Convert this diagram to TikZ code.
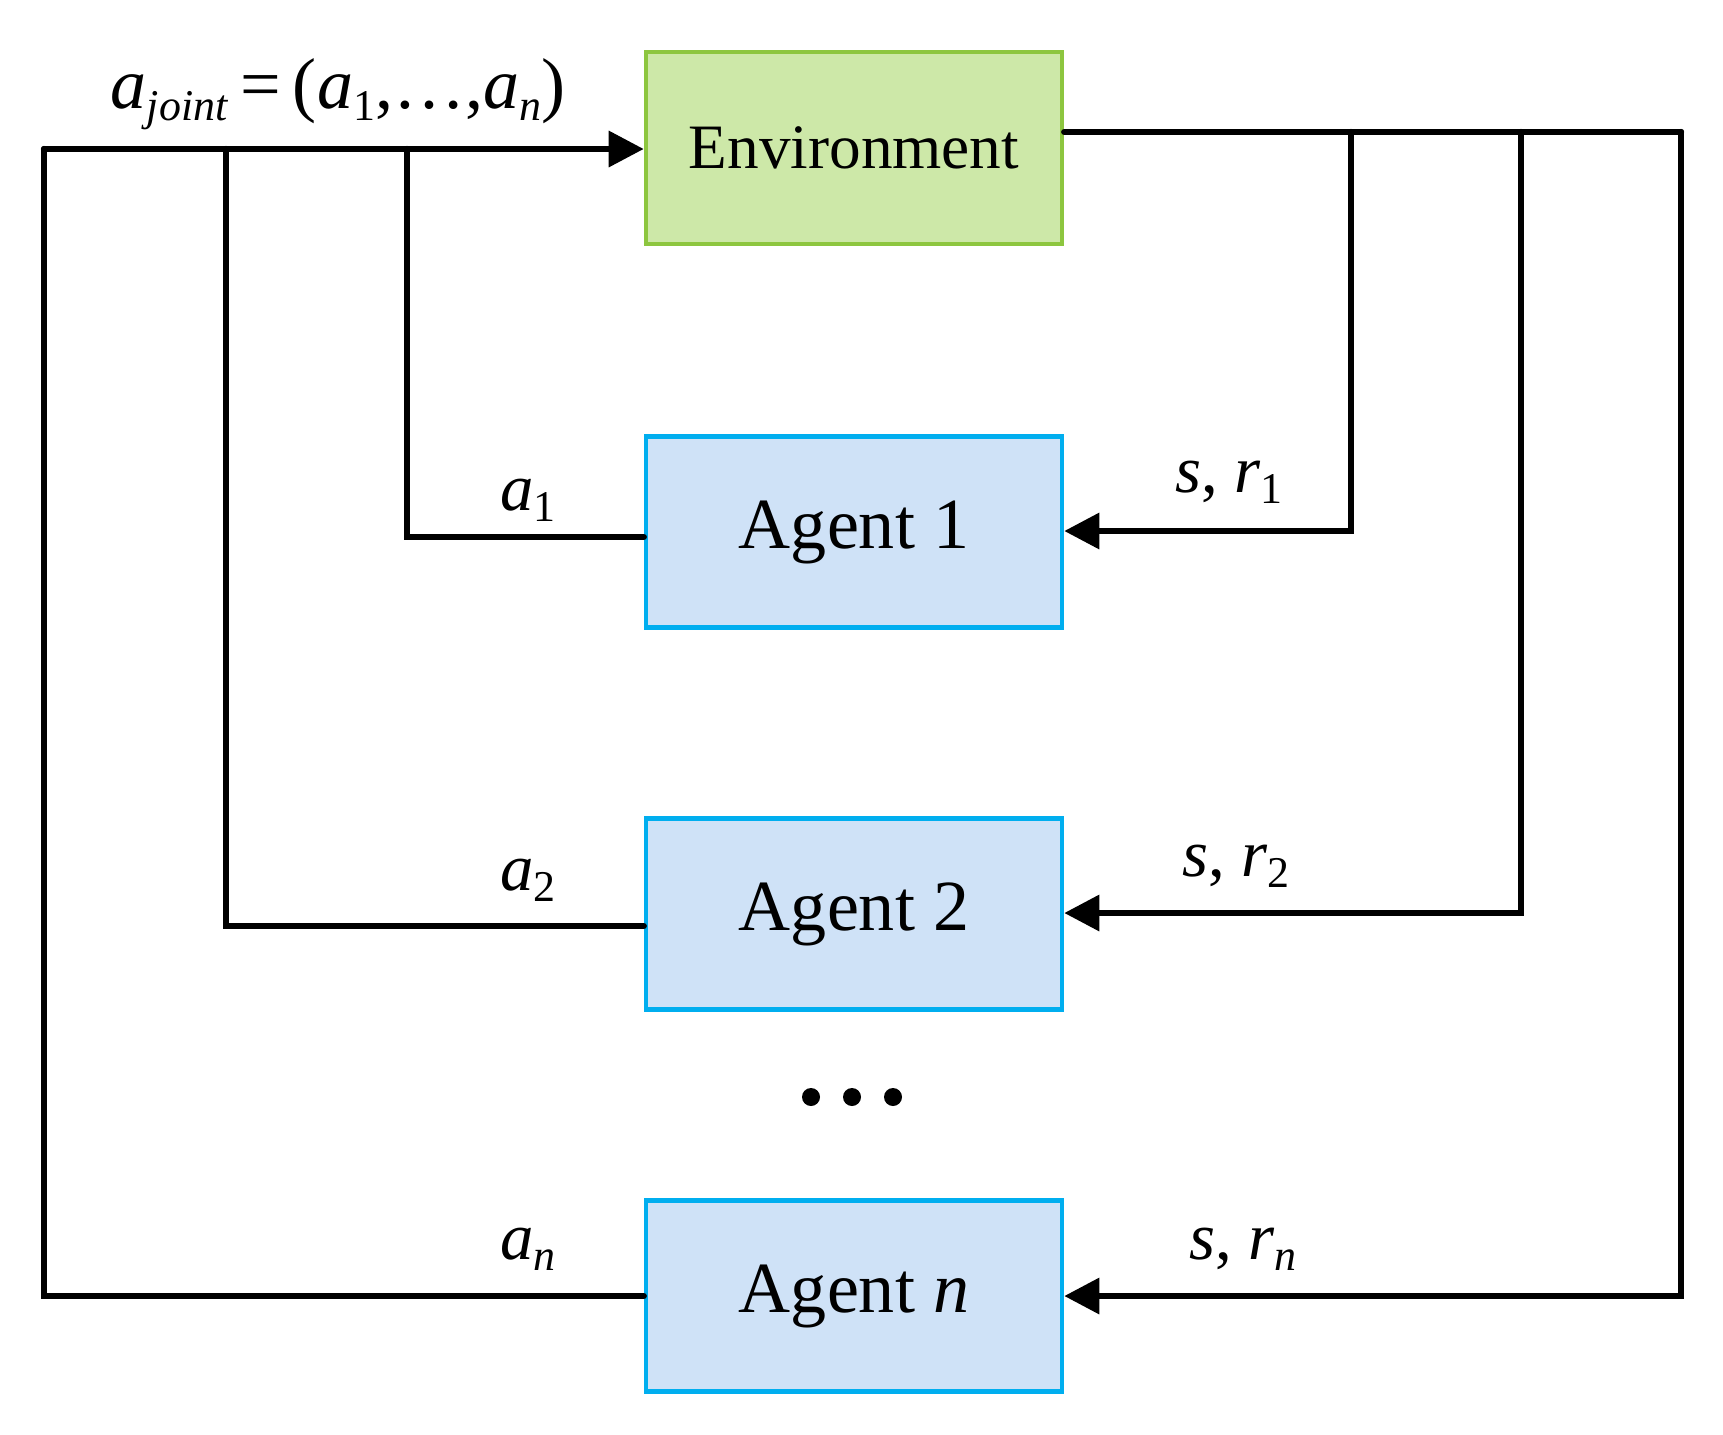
\documentclass[tikz,border=0pt]{standalone}
\usepackage{fontspec}
\setmainfont{Liberation Serif}
\usetikzlibrary{arrows.meta}
\newcommand{\ti}[1]{\textit{#1}}
\newcommand{\sub}[1]{\raisebox{-0.35ex}{\fontsize{25}{25}\selectfont #1}}
\begin{document}
\begin{tikzpicture}[x=0.02cm,y=-0.02cm,
  ln/.style={line width=3.6pt,line cap=round,line join=miter},
  arr/.style={ln,-{Triangle[length=20pt,width=20pt]}},
  env/.style={draw={rgb,255:red,141;green,198;blue,63},fill={rgb,255:red,205;green,232;blue,168},line width=2.6pt,inner sep=0},
  ag/.style={draw={rgb,255:red,0;green,174;blue,239},fill={rgb,255:red,207;green,226;blue,247},line width=2.6pt,inner sep=0},
  lab/.style={font=\fontsize{38}{38}\selectfont}]
\useasboundingbox (0,0) rectangle (1723,1434);
\node[env,minimum width=8.32cm,minimum height=3.84cm,font=\fontsize{36}{36}\selectfont] (E) at (854,148) {Environment};
\node[ag,minimum width=8.32cm,minimum height=3.82cm,font=\fontsize{41}{41}\selectfont] (A1) at (854,532) {Agent 1};
\node[ag,minimum width=8.32cm,minimum height=3.82cm,font=\fontsize{41}{41}\selectfont] (A2) at (854,914) {Agent 2};
\node[ag,minimum width=8.32cm,minimum height=3.82cm,font=\fontsize{41}{41}\selectfont] (An) at (854,1296) {Agent \ti{n}};
\coordinate (L0) at (44,149); \coordinate (L2) at (226,149); \coordinate (L1) at (407,149);
\coordinate (R1) at (1351,132); \coordinate (R2) at (1521,132); \coordinate (Rn) at (1681,132);
\draw[arr] (L0) -- (E.west|-L0);
\draw[ln] (L1) |- (A1.west|-0,537);
\draw[ln] (L2) |- (A2.west|-0,926);
\draw[ln] (L0) |- (An.west|-0,1296);
\draw[ln] (E.east|-R1) -- (Rn);
\draw[arr] (R1) |- (A1.east|-0,531);
\draw[arr] (R2) |- (A2.east|-0,913);
\draw[arr] (Rn) |- (An.east|-0,1296);
\node[lab,font=\fontsize{41}{41}\selectfont] (aj) at (338,94) {\ti{a}\sub{\ti{joint}}\,=\,(\ti{a}\sub{1},\ldots,\ti{a}\sub{\ti{n}})};
\node[lab] (a1) at (528,500) {\ti{a}\sub{1}};
\node[lab] (a2) at (528,880) {\ti{a}\sub{2}};
\node[lab] (an) at (528,1249) {\ti{a}\sub{\ti{n}}};
\node[lab] (s1) at (1229,482) {\ti{s}, \ti{r}\sub{1}};
\node[lab] (s2) at (1236,866) {\ti{s}, \ti{r}\sub{2}};
\node[lab] (sn) at (1243,1249) {\ti{s}, \ti{r}\sub{\ti{n}}};
\foreach \x [count=\i] in {811,852,893} \fill (\x,1097) circle (9) coordinate (d\i);
\end{tikzpicture}
\end{document}
